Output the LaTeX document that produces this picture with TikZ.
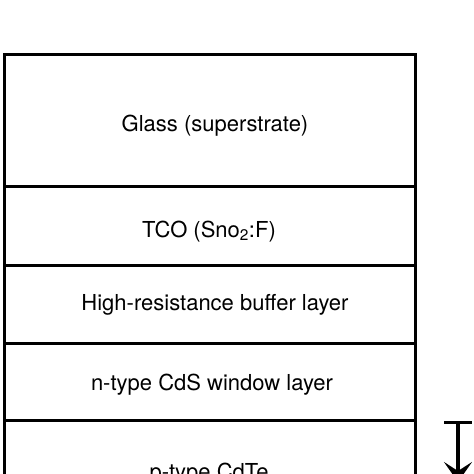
\documentclass[tikz,border=0pt]{standalone}
\usepackage{fontspec}
\setmainfont{TeX Gyre Heros}
\usetikzlibrary{arrows.meta}
\tikzset{
  layer/.style={draw, line width=3pt, minimum width=411pt, inner sep=0pt},
  txt/.style={anchor=base, inner sep=0pt, font=\fontsize{22}{26}\selectfont},
  light/.style={line width=3.8pt, {Bar[width=28pt,line width=2.8pt]}-{Stealth[length=20pt,width=28pt,inset=9pt]}}
}
\begin{document}
\begin{tikzpicture}[x=1pt,y=-1pt]
\useasboundingbox (0,0) rectangle (474,474);
\clip (0,0) rectangle (474,474);

\node[layer, minimum height=132pt] (glass) at (209.5,120) {};
\node[layer, minimum height=79pt] (tco) at (209.5,225.5) {};
\node[layer, minimum height=78pt] (buffer) at (209.5,304) {};
\node[layer, minimum height=77pt] (window) at (209.5,381.5) {};
\node[layer, minimum height=110pt] (cdte) at (209.5,475) {};

\node[txt] (glasst) at (215,131) {Glass (superstrate)};
\node[txt] (tcot) at (209,237) {TCO (Sno\textsubscript{2}:F)};
\node[txt] (buffert) at (215,310) {High-resistance buffer layer};
\node[txt] (windowt) at (212,390) {n-type CdS window layer};
\node[txt] (cdtet) at (209,479) {p-type CdTe};

\coordinate (ltop) at (458,421);
\coordinate (lbot) at (458,482);
\draw[light] (ltop) -- (lbot);
\end{tikzpicture}
\end{document}
